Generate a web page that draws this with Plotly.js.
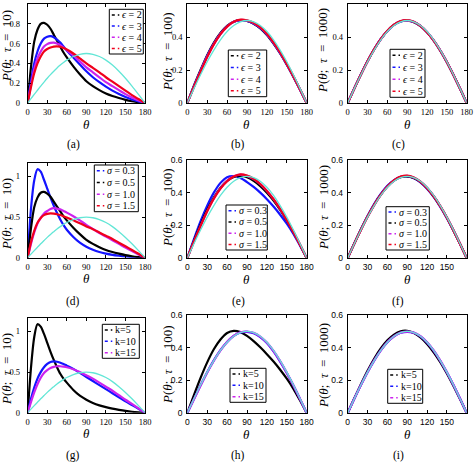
<!DOCTYPE html>
<html>
<head>
<meta charset="utf-8">
<script src="https://cdn.plot.ly/plotly-3.0.1.min.js"></script>
<style>
  html, body { margin: 0; padding: 0; background: #fff; }
  #chart { width: 474px; height: 463px; }
</style>
</head>
<body>
<div id="chart"></div>
<script>
// ---------- angle grids (degrees) ----------
const thetaFine   = [0,5,10,15,20,25,30,35,40,45,50,55,60,70,80,90,100,110,120,130,140,150,160,170,180];
const thetaCoarse = [0,10,20,30,40,50,60,70,80,90,100,110,120,130,140,150,160,170,180];

// ---------- equilibrium reference curve (cyan) ----------
const refFine   = [0,0.044,0.087,0.129,0.171,0.211,0.25,0.287,0.321,0.354,0.383,0.41,0.433,0.47,0.492,0.5,0.492,0.47,0.433,0.383,0.321,0.25,0.171,0.087,0];
const refCoarse = [0,0.087,0.171,0.25,0.321,0.383,0.433,0.47,0.492,0.5,0.492,0.47,0.433,0.383,0.321,0.25,0.171,0.087,0];

// ---------- tick labels ----------
const thetaTicks   = [0,30,60,90,120,150,180];
const yTicksTau10a = [0,0.2,0.4,0.6,0.8,1];
const yTicksTau10b = [0,0.5,1];
const yTicksLong   = [0,0.2,0.4,0.6];

// ---------- legend labels ----------
const epsValues   = ['2','3','4','5'];
const sigmaValues = ['0.3','0.5','1.0','1.5'];
const kValues     = ['5','10','15'];
const tauValues   = ['10','100','1000'];
const panelTags   = ['(a)','(b)','(c)','(d)','(e)','(f)','(g)','(h)','(i)'];

// ---------- (a) tau = 10, varying epsilon ----------
const a_eps2 = [0,0.36,0.62,0.74,0.80,0.81,0.79,0.75,0.69,0.63,0.57,0.51,0.46,0.37,0.29,0.22,0.17,0.13,0.095,0.07,0.05,0.032,0.018,0.008,0];
const a_eps3 = [0,0.22,0.40,0.52,0.60,0.65,0.67,0.675,0.665,0.64,0.61,0.57,0.53,0.46,0.39,0.32,0.26,0.21,0.165,0.125,0.09,0.06,0.035,0.015,0];
const a_eps4 = [0,0.18,0.34,0.45,0.52,0.57,0.595,0.607,0.61,0.60,0.585,0.56,0.535,0.48,0.42,0.36,0.31,0.26,0.21,0.17,0.13,0.09,0.055,0.025,0];
const a_eps5 = [0,0.16,0.30,0.40,0.47,0.52,0.545,0.56,0.57,0.572,0.568,0.555,0.54,0.50,0.45,0.40,0.355,0.31,0.26,0.215,0.17,0.125,0.08,0.04,0];

// ---------- (b) tau = 100, varying epsilon ----------
const b_eps2 = [0,0.105,0.2,0.29,0.365,0.425,0.468,0.493,0.502,0.497,0.48,0.452,0.412,0.36,0.3,0.232,0.158,0.08,0];
const b_eps3 = [0,0.1,0.195,0.285,0.36,0.42,0.465,0.492,0.502,0.498,0.482,0.455,0.415,0.363,0.302,0.234,0.16,0.081,0];
const b_eps4 = [0,0.098,0.192,0.28,0.356,0.418,0.463,0.492,0.503,0.5,0.485,0.458,0.418,0.366,0.305,0.236,0.161,0.082,0];
const b_eps5 = [0,0.097,0.19,0.278,0.355,0.417,0.463,0.493,0.505,0.501,0.486,0.459,0.419,0.367,0.306,0.237,0.162,0.082,0];

// ---------- (c) tau = 1000, varying epsilon ----------
const c_eps2 = [0,0.088,0.173,0.253,0.325,0.387,0.437,0.473,0.494,0.5,0.49,0.466,0.428,0.378,0.317,0.247,0.169,0.086,0];
const c_eps3 = [0,0.089,0.174,0.254,0.326,0.388,0.437,0.474,0.495,0.499,0.491,0.467,0.429,0.379,0.318,0.248,0.169,0.086,0];
const c_eps4 = [0,0.088,0.172,0.252,0.324,0.386,0.436,0.473,0.495,0.501,0.492,0.468,0.43,0.38,0.319,0.248,0.17,0.087,0];
const c_eps5 = [0,0.088,0.173,0.253,0.325,0.387,0.438,0.475,0.497,0.502,0.492,0.467,0.429,0.379,0.318,0.248,0.169,0.086,0];

// ---------- (d) tau = 10, varying sigma ----------
const d_s03 = [0,0.6,0.95,1.09,1.06,0.96,0.85,0.74,0.64,0.55,0.47,0.40,0.345,0.255,0.185,0.135,0.098,0.07,0.05,0.035,0.024,0.015,0.008,0.003,0];
const d_s05 = [0,0.36,0.62,0.74,0.80,0.81,0.79,0.75,0.69,0.63,0.57,0.51,0.46,0.37,0.29,0.22,0.17,0.13,0.095,0.07,0.05,0.032,0.018,0.008,0];
const d_s10 = [0,0.17,0.31,0.42,0.49,0.545,0.575,0.6,0.61,0.605,0.595,0.575,0.555,0.51,0.46,0.405,0.355,0.305,0.26,0.215,0.17,0.125,0.082,0.04,0];
const d_s15 = [0,0.19,0.33,0.43,0.49,0.525,0.54,0.545,0.542,0.535,0.525,0.51,0.495,0.46,0.425,0.385,0.35,0.31,0.27,0.23,0.185,0.14,0.095,0.048,0];

// ---------- (e) tau = 100, varying sigma ----------
const e_s03 = [0,0.115,0.225,0.32,0.4,0.46,0.495,0.502,0.49,0.465,0.435,0.4,0.36,0.315,0.265,0.21,0.147,0.075,0];
const e_s05 = [0,0.105,0.205,0.295,0.37,0.43,0.472,0.496,0.502,0.494,0.472,0.44,0.4,0.352,0.295,0.23,0.158,0.08,0];
const e_s10 = [0,0.1,0.197,0.287,0.364,0.427,0.472,0.5,0.51,0.503,0.483,0.452,0.41,0.36,0.3,0.233,0.16,0.081,0];
const e_s15 = [0,0.1,0.196,0.286,0.363,0.425,0.47,0.499,0.512,0.505,0.485,0.453,0.411,0.36,0.3,0.233,0.16,0.081,0];

// ---------- (f) tau = 1000, varying sigma ----------
const f_s03 = [0,0.09,0.176,0.257,0.33,0.392,0.442,0.477,0.497,0.5,0.489,0.463,0.424,0.374,0.313,0.244,0.167,0.085,0];
const f_s05 = [0,0.089,0.174,0.254,0.326,0.388,0.438,0.474,0.495,0.5,0.49,0.466,0.428,0.378,0.317,0.247,0.169,0.086,0];
const f_s10 = [0,0.088,0.172,0.252,0.324,0.386,0.437,0.474,0.496,0.503,0.493,0.468,0.43,0.38,0.318,0.248,0.17,0.086,0];
const f_s15 = [0,0.088,0.172,0.252,0.324,0.386,0.437,0.475,0.498,0.504,0.493,0.468,0.429,0.379,0.318,0.248,0.169,0.086,0];

// ---------- (g) tau = 10, varying k ----------
const g_k5  = [0,0.55,0.93,1.09,1.06,0.97,0.86,0.75,0.65,0.56,0.48,0.42,0.37,0.28,0.21,0.16,0.12,0.09,0.068,0.05,0.035,0.022,0.012,0.005,0];
const g_k10 = [0,0.17,0.31,0.42,0.5,0.56,0.6,0.625,0.632,0.628,0.615,0.6,0.58,0.54,0.49,0.44,0.39,0.34,0.29,0.24,0.19,0.14,0.095,0.048,0];
const g_k15 = [0,0.13,0.25,0.35,0.43,0.49,0.525,0.55,0.565,0.572,0.572,0.567,0.56,0.535,0.5,0.46,0.42,0.37,0.32,0.27,0.215,0.16,0.108,0.054,0];

// ---------- (h) tau = 100, varying k ----------
const h_k5  = [0,0.11,0.215,0.31,0.39,0.45,0.49,0.503,0.495,0.472,0.44,0.402,0.36,0.315,0.265,0.21,0.148,0.076,0];
const h_k10 = [0,0.085,0.17,0.25,0.322,0.385,0.435,0.472,0.493,0.497,0.488,0.465,0.428,0.377,0.315,0.245,0.168,0.085,0];
const h_k15 = [0,0.084,0.168,0.248,0.32,0.383,0.434,0.472,0.494,0.499,0.491,0.468,0.431,0.38,0.318,0.247,0.169,0.086,0];

// ---------- (i) tau = 1000, varying k ----------
const i_k5  = [0,0.09,0.176,0.258,0.332,0.395,0.445,0.48,0.5,0.503,0.49,0.463,0.423,0.372,0.311,0.242,0.165,0.084,0];
const i_k10 = [0,0.087,0.171,0.25,0.321,0.383,0.433,0.469,0.491,0.497,0.491,0.469,0.432,0.382,0.32,0.249,0.171,0.087,0];
const i_k15 = [0,0.087,0.171,0.25,0.322,0.384,0.434,0.47,0.492,0.498,0.492,0.47,0.433,0.383,0.321,0.25,0.171,0.087,0];

// ================= drawing =================
const W = 474, H = 463;
const C = { black: '#000000', blue: '#1414ff', magenta: '#cc22ee', red: '#f0001c', cyan: '#62e6d6' };
const SERIF = 'Liberation Serif, Times New Roman, serif';
const SANS  = 'Liberation Sans, Arial, sans-serif';

const px = v => v / W;          // horizontal pixel -> paper
const py = v => 1 - v / H;      // vertical pixel (from top) -> paper

const colPx = [[27.7, 145], [187.3, 306.7], [347.7, 466.7]];
const rowPx = [
  [[4, 103], [4, 103], [4, 103]],
  [[162.7, 257.7], [160, 258], [160, 258]],
  [[317.7, 412.7], [315, 413], [315, 413]]
];
const yLabelGap = [5, 2, 2];

const epsLabels   = epsValues.map(v => '<i>ϵ</i> = ' + v);
const sigmaLabels = sigmaValues.map(v => '<i>σ</i> = ' + v);
const kLabels     = kValues.map(v => 'k=' + v);

const panels = [
  { theta: thetaFine,   ref: refFine,   ymax: 1,    yticks: yTicksTau10a, font: SERIF,
    series: [[a_eps2, C.black], [a_eps3, C.blue], [a_eps4, C.magenta], [a_eps5, C.red]],
    labels: epsLabels, legend: [109.3, 143.3, 9.3, 54] },
  { theta: thetaCoarse, ref: refCoarse, ymax: 0.6,  yticks: yTicksLong, font: SERIF,
    series: [[b_eps2, C.black], [b_eps3, C.blue], [b_eps4, C.magenta], [b_eps5, C.red]],
    labels: epsLabels, legend: [228.3, 266.7, 50, 96.7] },
  { theta: thetaCoarse, ref: refCoarse, ymax: 0.6,  yticks: yTicksLong, font: SERIF,
    series: [[c_eps2, C.black], [c_eps3, C.blue], [c_eps4, C.magenta], [c_eps5, C.red]],
    labels: epsLabels, legend: [390, 425, 49.3, 97.3] },
  { theta: thetaFine,   ref: refFine,   ymax: 1.17, yticks: yTicksTau10b, font: SERIF,
    series: [[d_s03, C.blue], [d_s05, C.black], [d_s10, C.magenta], [d_s15, C.red]],
    labels: sigmaLabels, legend: [94.3, 138.3, 165, 211.7] },
  { theta: thetaCoarse, ref: refCoarse, ymax: 0.6,  yticks: yTicksLong, font: SANS,
    series: [[e_s03, C.blue], [e_s05, C.black], [e_s10, C.magenta], [e_s15, C.red]],
    labels: sigmaLabels, legend: [226, 267.3, 205, 250] },
  { theta: thetaCoarse, ref: refCoarse, ymax: 0.6,  yticks: yTicksLong, font: SANS,
    series: [[f_s03, C.blue], [f_s05, C.black], [f_s10, C.magenta], [f_s15, C.red]],
    labels: sigmaLabels, legend: [386, 429.3, 206.7, 250] },
  { theta: thetaFine,   ref: refFine,   ymax: 1.17, yticks: yTicksTau10b, font: SERIF,
    series: [[g_k5, C.black], [g_k10, C.blue], [g_k15, C.magenta]],
    labels: kLabels, legend: [102.3, 139.3, 324.3, 358.3] },
  { theta: thetaCoarse, ref: refCoarse, ymax: 0.6,  yticks: yTicksLong, font: SANS,
    series: [[h_k5, C.black], [h_k10, C.blue], [h_k15, C.magenta]],
    labels: kLabels, legend: [230, 266, 368.3, 402.3] },
  { theta: thetaCoarse, ref: refCoarse, ymax: 0.6,  yticks: yTicksLong, font: SANS,
    series: [[i_k5, C.black], [i_k10, C.blue], [i_k15, C.magenta]],
    labels: kLabels, legend: [387.7, 422.7, 369.3, 403.3] }
];

// y-title centres (px from top) for each panel
const yTitleMid = [46, 52, 51, 214, 208, 208, 369, 365, 366];
const yTitleX   = [6, 167, 323];
const tagX      = [73, 238, 398];
const tagY      = [145, 301, 455];

const traces = [];
const layout = {
  width: W, height: H,
  margin: { l: 0, r: 0, t: 0, b: 0 },
  paper_bgcolor: '#fff', plot_bgcolor: '#fff',
  showlegend: false,
  annotations: [], shapes: []
};

panels.forEach((p, idx) => {
  const r = Math.floor(idx / 3), c = idx % 3;
  const n = idx + 1;
  const xs = n === 1 ? 'x' : 'x' + n;
  const ys = n === 1 ? 'y' : 'y' + n;
  const [L, R] = colPx[c];
  const [T, B] = rowPx[r][c];

  const common = {
    ticks: 'inside', ticklen: 3, tickwidth: 1, tickcolor: '#000',
    showline: true, linecolor: '#000', linewidth: 1, mirror: 'ticks',
    showgrid: false, zeroline: false, fixedrange: true,
    tickfont: { family: p.font, size: 8.5, color: '#000' }
  };
  layout['xaxis' + (n === 1 ? '' : n)] = Object.assign({}, common, {
    domain: [px(L), px(R)], range: [0, 180], tickvals: thetaTicks,
    ticktext: thetaTicks.map(String), anchor: ys, ticklabelstandoff: 1
  });
  layout['yaxis' + (n === 1 ? '' : n)] = Object.assign({}, common, {
    domain: [py(B), py(T)], range: [0, p.ymax], tickvals: p.yticks,
    ticktext: p.yticks.map(String), anchor: xs, ticklabelstandoff: yLabelGap[c]
  });

  p.series.forEach(([vals, col]) => {
    traces.push({
      type: 'scatter', mode: 'lines', x: p.theta, y: vals, xaxis: xs, yaxis: ys,
      line: { color: col, width: 2.2, shape: 'spline', smoothing: 0.8 },
      hoverinfo: 'skip'
    });
  });
  traces.push({
    type: 'scatter', mode: 'lines', x: p.theta, y: p.ref, xaxis: xs, yaxis: ys,
    line: { color: C.cyan, width: 1.3, shape: 'spline', smoothing: 0.8 },
    hoverinfo: 'skip'
  });

  // axis titles
  layout.annotations.push({
    xref: 'paper', yref: 'paper', x: px((L + R) / 2), y: py(B + 21),
    text: '<i>θ</i>', showarrow: false, xanchor: 'center', yanchor: 'middle',
    font: { family: SERIF, size: 13, color: '#000' }
  });
  layout.annotations.push({
    xref: 'paper', yref: 'paper', x: px(yTitleX[c]), y: py(yTitleMid[idx]),
    text: '<i>P</i>(<i>θ</i>;\u2002<i>τ</i>\u2002=\u2002' + tauValues[c] + ')',
    textangle: -90, showarrow: false, xanchor: 'center', yanchor: 'middle',
    font: { family: SERIF, size: 13, color: '#000' }
  });
  layout.annotations.push({
    xref: 'paper', yref: 'paper', x: px(tagX[c]), y: py(tagY[r]),
    text: panelTags[idx], showarrow: false, xanchor: 'center', yanchor: 'middle',
    font: { family: SERIF, size: 11.5, color: '#000' }
  });

  // legend box
  const [lx0, lx1, ly0, ly1] = p.legend;
  layout.shapes.push({
    type: 'rect', xref: 'paper', yref: 'paper',
    x0: px(lx0), x1: px(lx1), y0: py(ly1), y1: py(ly0),
    line: { color: '#000', width: 1 }, fillcolor: '#fff', layer: 'above'
  });
  const nItems = p.series.length;
  const step = (ly1 - ly0) / nItems;
  p.series.forEach(([vals, col], k) => {
    const yc = ly0 + step * (k + 0.5);
    layout.shapes.push({
      type: 'line', xref: 'paper', yref: 'paper',
      x0: px(lx0 + 2.5), x1: px(lx0 + 10), y0: py(yc), y1: py(yc),
      line: { color: col, width: 1.5, dash: 'dot' }, layer: 'above'
    });
    layout.annotations.push({
      xref: 'paper', yref: 'paper', x: px(lx0 + 11), y: py(yc),
      text: p.labels[k], showarrow: false, xanchor: 'left', yanchor: 'middle',
      font: { family: SERIF, size: 10, color: '#000' }
    });
  });
});

Plotly.newPlot('chart', traces, layout, { staticPlot: true, displayModeBar: false });
</script>
</body>
</html>
